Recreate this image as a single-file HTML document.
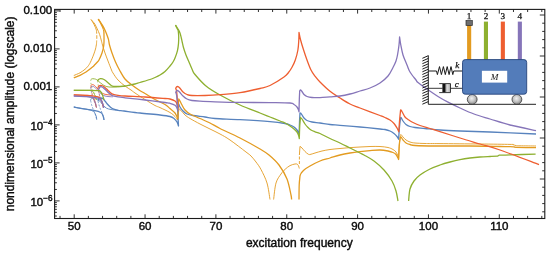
<!DOCTYPE html>
<html lang="en"><head><meta charset="utf-8"><title>Frequency response</title>
<style>html,body{margin:0;padding:0;background:#fff}body{width:550px;height:254px;overflow:hidden;position:relative}</style></head>
<body>
<svg width="550" height="254" viewBox="0 0 550 254" style="position:absolute;left:0;top:0">
<rect x="0" y="0" width="550" height="254" fill="#fff"/>
<clipPath id="cp"><rect x="54.6" y="9.4" width="490.2" height="209.1"/></clipPath>
<g clip-path="url(#cp)" fill="none" stroke-linecap="butt" stroke-linejoin="round">
<path d="M90.60,100.40C90.75,101.08 91.18,103.32 91.50,104.50C91.82,105.68 92.00,106.20 92.50,107.50C93.00,108.80 93.97,110.92 94.50,112.30C95.03,113.68 95.33,114.58 95.70,115.80C96.07,117.02 96.53,118.97 96.70,119.60" stroke="#5883be" stroke-width="0.70" stroke-dasharray="2.2,1.3"/>
<path d="M98.00,101.00C98.17,101.67 98.67,103.83 99.00,105.00C99.33,106.17 99.50,106.70 100.00,108.00C100.50,109.30 101.48,111.42 102.00,112.80C102.52,114.18 102.77,115.10 103.10,116.30C103.43,117.50 103.85,119.38 104.00,120.00" stroke="#5883be" stroke-width="0.70" stroke-dasharray="2.2,1.3"/>
<path d="M90.90,79.60C90.87,80.00 90.62,81.02 90.70,82.00C90.78,82.98 91.15,84.42 91.40,85.50C91.65,86.58 91.83,87.45 92.20,88.50C92.57,89.55 93.10,90.80 93.60,91.80C94.10,92.80 94.73,93.13 95.20,94.50C95.67,95.87 96.20,99.08 96.40,100.00" stroke="#8eb030" stroke-width="0.70" stroke-dasharray="1.4,2"/>
<path d="M97.50,81.20C97.58,81.67 97.75,82.87 98.00,84.00C98.25,85.13 98.58,86.75 99.00,88.00C99.42,89.25 99.95,90.42 100.50,91.50C101.05,92.58 101.72,93.08 102.30,94.50C102.88,95.92 103.72,99.08 104.00,100.00" stroke="#8eb030" stroke-width="0.70" stroke-dasharray="1.4,2"/>
<path d="M90.80,86.00C90.93,86.83 91.33,89.50 91.60,91.00C91.87,92.50 92.03,93.58 92.40,95.00C92.77,96.42 93.32,98.08 93.80,99.50C94.28,100.92 94.85,102.17 95.30,103.50C95.75,104.83 96.30,106.83 96.50,107.50" stroke="#ee5e30" stroke-width="0.70" stroke-dasharray="2.2,1.3"/>
<path d="M97.80,87.60C97.95,88.33 98.38,90.60 98.70,92.00C99.02,93.40 99.28,94.58 99.70,96.00C100.12,97.42 100.72,99.08 101.20,100.50C101.68,101.92 102.18,103.28 102.60,104.50C103.02,105.72 103.52,107.25 103.70,107.80" stroke="#ee5e30" stroke-width="0.70" stroke-dasharray="2.2,1.3"/>
<path d="M90.70,87.40C90.83,88.20 91.22,90.73 91.50,92.20C91.78,93.67 92.02,94.85 92.40,96.20C92.78,97.55 93.32,99.00 93.80,100.30C94.28,101.60 94.87,102.80 95.30,104.00C95.73,105.20 96.22,106.92 96.40,107.50" stroke="#8675b9" stroke-width="0.70" stroke-dasharray="2.2,1.3"/>
<path d="M98.50,89.80C98.62,90.42 98.95,92.30 99.20,93.50C99.45,94.70 99.63,95.72 100.00,97.00C100.37,98.28 100.95,99.87 101.40,101.20C101.85,102.53 102.33,103.87 102.70,105.00C103.07,106.13 103.45,107.50 103.60,108.00" stroke="#8675b9" stroke-width="0.70" stroke-dasharray="2.2,1.3"/>
<path d="M73.80,107.00C75.50,107.32 81.30,108.40 84.00,108.90C86.70,109.40 88.42,109.57 90.00,110.00C91.58,110.43 92.62,110.83 93.50,111.50C94.38,112.17 94.82,113.08 95.30,114.00C95.78,114.92 96.17,116.07 96.40,117.00C96.63,117.93 96.65,119.17 96.70,119.60" stroke="#5883be" stroke-width="0.90"/>
<path d="M90.60,100.40C90.70,100.10 90.85,99.03 91.20,98.60C91.55,98.17 91.98,97.85 92.70,97.80C93.42,97.75 94.53,97.97 95.50,98.30C96.47,98.63 97.58,99.10 98.50,99.80C99.42,100.50 100.17,101.55 101.00,102.50C101.83,103.45 102.58,104.55 103.50,105.50C104.42,106.45 105.25,107.53 106.50,108.20C107.75,108.87 109.08,109.13 111.00,109.50C112.92,109.87 116.83,110.25 118.00,110.40" stroke="#5883be" stroke-width="0.90"/>
<path d="M73.80,75.50C74.83,75.05 78.13,73.83 80.00,72.80C81.87,71.77 83.67,70.40 85.00,69.30C86.33,68.20 87.10,67.37 88.00,66.20C88.90,65.03 89.48,64.17 90.40,62.30C91.32,60.43 92.65,57.22 93.50,55.00C94.35,52.78 95.00,50.83 95.50,49.00C96.00,47.17 96.33,44.83 96.50,44.00" stroke="#e39b20" stroke-width="0.90"/>
<path d="M96.50,44.00C96.55,43.00 96.77,39.83 96.80,38.00C96.83,36.17 96.77,34.30 96.70,33.00C96.63,31.70 96.45,30.67 96.40,30.20" stroke="#e39b20" stroke-width="0.90" stroke-dasharray="3.5,1.6"/>
<path d="M91.10,19.50C91.42,19.88 92.38,21.05 93.00,21.80C93.62,22.55 94.10,22.83 94.80,24.00C95.50,25.17 96.40,27.07 97.20,28.80C98.00,30.53 98.93,32.53 99.60,34.40C100.27,36.27 100.72,38.23 101.20,40.00C101.68,41.77 101.87,42.83 102.50,45.00C103.13,47.17 104.08,50.33 105.00,53.00C105.92,55.67 106.92,58.17 108.00,61.00C109.08,63.83 110.67,68.00 111.50,70.00C112.33,72.00 111.92,71.33 113.00,73.00C114.08,74.67 116.00,77.83 118.00,80.00C120.00,82.17 122.83,84.33 125.00,86.00C127.17,87.67 129.33,88.83 131.00,90.00C132.67,91.17 132.67,91.42 135.00,93.00C137.33,94.58 141.67,97.42 145.00,99.50C148.33,101.58 152.50,104.15 155.00,105.50C157.50,106.85 157.50,106.43 160.00,107.60C162.50,108.77 167.50,111.02 170.00,112.50C172.50,113.98 173.75,115.25 175.00,116.50C176.25,117.75 177.08,119.42 177.50,120.00C177.67,118.67 178.22,113.87 178.50,112.00C178.78,110.13 179.08,109.33 179.20,108.80C179.50,109.08 180.03,109.47 181.00,110.50C181.97,111.53 183.50,113.67 185.00,115.00C186.50,116.33 187.50,117.00 190.00,118.50C192.50,120.00 196.67,122.25 200.00,124.00C203.33,125.75 206.67,127.33 210.00,129.00C213.33,130.67 216.67,132.17 220.00,134.00C223.33,135.83 225.67,137.00 230.00,140.00C234.33,143.00 242.50,149.33 246.00,152.00C249.50,154.67 249.33,154.33 251.00,156.00C252.67,157.67 254.33,159.75 256.00,162.00C257.67,164.25 259.17,166.00 261.00,169.50C262.83,173.00 265.50,178.00 267.00,183.00C268.50,188.00 269.50,196.75 270.00,199.50" stroke="#e39b20" stroke-width="0.90"/>
<path d="M273.60,199.50C274.00,196.75 274.77,187.25 276.00,183.00C277.23,178.75 279.50,176.27 281.00,174.00C282.50,171.73 283.50,170.80 285.00,169.40C286.50,168.00 288.33,166.50 290.00,165.60C291.67,164.70 293.80,164.23 295.00,164.00C296.20,163.77 296.62,163.90 297.20,164.20C297.78,164.50 298.15,165.08 298.50,165.80C298.85,166.52 299.17,168.05 299.30,168.50" stroke="#e39b20" stroke-width="0.90"/>
<path d="M299.40,164.00L299.40,155.00" stroke="#e39b20" stroke-width="0.90" stroke-dasharray="3,1.5"/>
<path d="M299.40,155.00L300.00,146.30C300.33,146.58 301.17,147.13 302.00,148.00C302.83,148.87 304.00,150.50 305.00,151.50C306.00,152.50 307.17,153.50 308.00,154.00C308.83,154.50 308.83,154.67 310.00,154.50C311.17,154.33 313.00,153.58 315.00,153.00C317.00,152.42 319.50,151.58 322.00,151.00C324.50,150.42 327.00,149.92 330.00,149.50C333.00,149.08 336.67,148.82 340.00,148.50C343.33,148.18 346.67,147.85 350.00,147.60C353.33,147.35 356.67,147.18 360.00,147.00C363.33,146.82 366.67,146.58 370.00,146.50C373.33,146.42 377.00,146.33 380.00,146.50C383.00,146.67 385.83,147.00 388.00,147.50C390.17,148.00 391.67,148.75 393.00,149.50C394.33,150.25 395.17,150.92 396.00,152.00C396.83,153.08 397.57,154.92 398.00,156.00C398.43,157.08 398.50,158.08 398.60,158.50C398.72,156.25 399.02,148.83 399.30,145.00C399.58,141.17 400.13,137.08 400.30,135.50C400.42,135.33 400.55,134.25 401.00,134.50C401.45,134.75 402.17,136.08 403.00,137.00C403.83,137.92 404.83,139.17 406.00,140.00C407.17,140.83 408.50,141.50 410.00,142.00C411.50,142.50 412.50,142.75 415.00,143.00C417.50,143.25 420.83,143.40 425.00,143.50C429.17,143.60 430.83,143.52 440.00,143.60C449.17,143.68 468.33,143.87 480.00,144.00C491.67,144.13 504.50,144.30 510.00,144.40C515.50,144.50 512.00,144.40 513.00,144.60C514.00,144.80 514.83,145.40 516.00,145.60C517.17,145.80 516.67,145.73 520.00,145.80C523.33,145.87 533.33,145.97 536.00,146.00" stroke="#e39b20" stroke-width="0.90"/>
<path d="M96.40,30.20C96.23,29.73 95.80,28.37 95.40,27.40C95.00,26.43 94.48,25.33 94.00,24.40C93.52,23.47 93.00,22.60 92.50,21.80C92.00,21.00 91.25,19.97 91.00,19.60" stroke="#e39b20" stroke-width="0.90"/>
<path d="M73.80,90.20C75.67,90.22 82.13,90.27 85.00,90.30C87.87,90.33 89.75,90.25 91.00,90.40C92.25,90.55 91.92,90.52 92.50,91.20C93.08,91.88 93.85,93.03 94.50,94.50C95.15,95.97 96.08,99.08 96.40,100.00" stroke="#8eb030" stroke-width="0.90"/>
<path d="M90.90,79.60C91.02,79.50 91.30,79.15 91.60,79.00C91.90,78.85 92.22,78.72 92.70,78.70C93.18,78.68 93.88,78.77 94.50,78.90C95.12,79.03 95.73,79.10 96.40,79.50C97.07,79.90 97.53,80.52 98.50,81.30C99.47,82.08 101.10,83.42 102.20,84.20C103.30,84.98 103.97,85.53 105.10,86.00C106.23,86.47 107.35,86.82 109.00,87.00C110.65,87.18 113.17,87.13 115.00,87.10C116.83,87.07 118.33,86.93 120.00,86.80C121.67,86.67 124.17,86.38 125.00,86.30" stroke="#8eb030" stroke-width="0.90"/>
<path d="M73.80,94.80C75.67,94.88 82.30,95.17 85.00,95.30C87.70,95.43 88.83,95.40 90.00,95.60C91.17,95.80 91.25,95.77 92.00,96.50C92.75,97.23 93.77,98.17 94.50,100.00C95.23,101.83 96.08,106.25 96.40,107.50" stroke="#ee5e30" stroke-width="0.90"/>
<path d="M90.80,86.00C90.90,85.82 91.13,85.15 91.40,84.90C91.67,84.65 91.97,84.47 92.40,84.50C92.83,84.53 93.47,84.77 94.00,85.10C94.53,85.43 94.85,85.75 95.60,86.50C96.35,87.25 97.60,88.63 98.50,89.60C99.40,90.57 100.08,91.57 101.00,92.30C101.92,93.03 102.83,93.58 104.00,94.00C105.17,94.42 106.67,94.63 108.00,94.80C109.33,94.97 111.33,94.97 112.00,95.00" stroke="#ee5e30" stroke-width="0.90"/>
<path d="M73.80,95.90C75.67,96.00 82.30,96.33 85.00,96.50C87.70,96.67 88.67,96.57 90.00,96.90C91.33,97.23 92.08,97.48 93.00,98.50C93.92,99.52 94.93,101.50 95.50,103.00C96.07,104.50 96.25,106.75 96.40,107.50" stroke="#8675b9" stroke-width="0.90"/>
<path d="M90.70,87.40C90.83,87.27 91.17,86.78 91.50,86.60C91.83,86.42 92.28,86.25 92.70,86.30C93.12,86.35 93.53,86.60 94.00,86.90C94.47,87.20 94.75,87.42 95.50,88.10C96.25,88.78 97.50,89.98 98.50,91.00C99.50,92.02 100.42,93.37 101.50,94.20C102.58,95.03 103.75,95.60 105.00,96.00C106.25,96.40 107.67,96.47 109.00,96.60C110.33,96.73 112.33,96.77 113.00,96.80" stroke="#8675b9" stroke-width="0.90"/>
<path d="M73.80,107.00C75.50,107.32 80.47,108.28 84.00,108.90C87.53,109.52 92.22,110.10 95.00,110.70C97.78,111.30 99.45,111.87 100.70,112.50C101.95,113.13 102.02,113.67 102.50,114.50C102.98,115.33 103.35,116.58 103.60,117.50C103.85,118.42 103.93,119.58 104.00,120.00" stroke="#5883be" stroke-width="1.30"/>
<path d="M98.00,101.00C98.17,100.65 98.55,99.40 99.00,98.90C99.45,98.40 100.03,98.02 100.70,98.00C101.37,97.98 102.28,98.30 103.00,98.80C103.72,99.30 104.17,100.00 105.00,101.00C105.83,102.00 107.08,103.77 108.00,104.80C108.92,105.83 109.67,106.53 110.50,107.20C111.33,107.87 111.72,108.28 113.00,108.80C114.28,109.32 116.37,109.93 118.20,110.30C120.03,110.67 120.37,110.55 124.00,111.00C127.63,111.45 134.00,112.33 140.00,113.00C146.00,113.67 155.00,114.42 160.00,115.00C165.00,115.58 167.67,115.92 170.00,116.50C172.33,117.08 172.83,117.58 174.00,118.50C175.17,119.42 176.25,120.75 177.00,122.00C177.75,123.25 178.25,125.33 178.50,126.00C178.35,123.33 177.82,113.67 177.60,110.00C177.38,106.33 177.27,105.00 177.20,104.00C177.33,103.80 177.70,102.72 178.00,102.80C178.30,102.88 178.67,103.80 179.00,104.50C179.33,105.20 179.33,105.92 180.00,107.00C180.67,108.08 181.83,109.83 183.00,111.00C184.17,112.17 185.33,113.25 187.00,114.00C188.67,114.75 190.00,115.00 193.00,115.50C196.00,116.00 201.33,116.50 205.00,117.00C208.67,117.50 209.17,118.07 215.00,118.50C220.83,118.93 230.83,119.08 240.00,119.60C249.17,120.12 262.50,120.95 270.00,121.60C277.50,122.25 281.67,122.93 285.00,123.50C288.33,124.07 288.50,124.42 290.00,125.00C291.50,125.58 292.83,126.17 294.00,127.00C295.17,127.83 296.23,129.00 297.00,130.00C297.77,131.00 298.25,132.13 298.60,133.00C298.95,133.87 299.02,134.83 299.10,135.20C299.17,133.00 299.35,125.70 299.50,122.00C299.65,118.30 299.92,114.50 300.00,113.00C300.13,113.05 300.47,112.97 300.80,113.30C301.13,113.63 301.47,114.22 302.00,115.00C302.53,115.78 303.17,117.08 304.00,118.00C304.83,118.92 305.67,119.83 307.00,120.50C308.33,121.17 309.83,121.58 312.00,122.00C314.17,122.42 317.00,122.58 320.00,123.00C323.00,123.42 326.67,124.12 330.00,124.50C333.33,124.88 335.00,124.88 340.00,125.30C345.00,125.72 353.33,126.38 360.00,127.00C366.67,127.62 375.83,128.58 380.00,129.00C384.17,129.42 383.33,129.17 385.00,129.50C386.67,129.83 388.50,130.33 390.00,131.00C391.50,131.67 392.83,132.58 394.00,133.50C395.17,134.42 396.23,135.55 397.00,136.50C397.77,137.45 398.33,138.75 398.60,139.20C398.75,137.17 399.17,130.60 399.50,127.00C399.83,123.40 400.42,119.17 400.60,117.60C400.72,117.63 400.90,117.23 401.30,117.80C401.70,118.37 402.22,119.88 403.00,121.00C403.78,122.12 404.83,123.58 406.00,124.50C407.17,125.42 408.50,126.00 410.00,126.50C411.50,127.00 412.50,127.17 415.00,127.50C417.50,127.83 420.83,128.08 425.00,128.50C429.17,128.92 434.17,129.58 440.00,130.00C445.83,130.42 451.67,130.67 460.00,131.00C468.33,131.33 477.33,131.50 490.00,132.00C502.67,132.50 528.33,133.67 536.00,134.00" stroke="#5883be" stroke-width="1.30"/>
<path d="M73.80,77.80C74.83,77.38 77.97,76.27 80.00,75.30C82.03,74.33 83.92,73.38 86.00,72.00C88.08,70.62 91.00,68.25 92.50,67.00C94.00,65.75 94.18,65.33 95.00,64.50C95.82,63.67 96.73,62.75 97.40,62.00C98.07,61.25 98.23,61.50 99.00,60.00C99.77,58.50 101.25,55.17 102.00,53.00C102.75,50.83 103.17,48.83 103.50,47.00C103.83,45.17 103.92,44.00 104.00,42.00C104.08,40.00 104.03,36.83 104.00,35.00C103.97,33.17 103.90,31.95 103.80,31.00C103.70,30.05 103.47,29.58 103.40,29.30" stroke="#e39b20" stroke-width="1.30"/>
<path d="M98.30,19.00C98.58,19.42 99.45,20.67 100.00,21.50C100.55,22.33 100.93,22.92 101.60,24.00C102.27,25.08 103.20,26.40 104.00,28.00C104.80,29.60 105.67,31.73 106.40,33.60C107.13,35.47 107.88,37.30 108.40,39.20C108.92,41.10 108.90,42.70 109.50,45.00C110.10,47.30 111.00,50.17 112.00,53.00C113.00,55.83 114.25,59.17 115.50,62.00C116.75,64.83 117.92,67.17 119.50,70.00C121.08,72.83 122.92,76.50 125.00,79.00C127.08,81.50 129.67,83.17 132.00,85.00C134.33,86.83 136.83,88.58 139.00,90.00C141.17,91.42 142.33,91.92 145.00,93.50C147.67,95.08 151.67,97.67 155.00,99.50C158.33,101.33 162.50,103.00 165.00,104.50C167.50,106.00 168.33,107.08 170.00,108.50C171.67,109.92 173.67,111.25 175.00,113.00C176.33,114.75 177.50,118.00 178.00,119.00C178.05,116.67 178.17,108.33 178.30,105.00C178.43,101.67 178.72,100.00 178.80,99.00C179.00,99.33 179.47,100.00 180.00,101.00C180.53,102.00 181.17,103.50 182.00,105.00C182.83,106.50 183.67,108.50 185.00,110.00C186.33,111.50 187.50,112.58 190.00,114.00C192.50,115.42 196.67,117.00 200.00,118.50C203.33,120.00 206.67,121.33 210.00,123.00C213.33,124.67 215.00,126.00 220.00,128.50C225.00,131.00 233.33,134.58 240.00,138.00C246.67,141.42 255.17,146.17 260.00,149.00C264.83,151.83 265.83,152.33 269.00,155.00C272.17,157.67 276.00,161.00 279.00,165.00C282.00,169.00 285.00,174.00 287.00,179.00C289.00,184.00 290.23,191.58 291.00,195.00C291.77,198.42 291.50,198.75 291.60,199.50" stroke="#e39b20" stroke-width="1.30"/>
<path d="M299.00,199.50C299.03,197.08 299.03,188.92 299.20,185.00C299.37,181.08 299.87,177.50 300.00,176.00C300.17,175.58 300.33,174.50 301.00,173.50C301.67,172.50 302.50,171.25 304.00,170.00C305.50,168.75 307.33,167.50 310.00,166.00C312.67,164.50 316.67,162.33 320.00,161.00C323.33,159.67 326.67,159.00 330.00,158.00C333.33,157.00 336.67,155.83 340.00,155.00C343.33,154.17 346.67,153.57 350.00,153.00C353.33,152.43 356.67,152.00 360.00,151.60C363.33,151.20 366.67,150.87 370.00,150.60C373.33,150.33 377.00,149.93 380.00,150.00C383.00,150.07 385.83,150.58 388.00,151.00C390.17,151.42 391.67,151.92 393.00,152.50C394.33,153.08 395.17,153.58 396.00,154.50C396.83,155.42 397.57,157.17 398.00,158.00C398.43,158.83 398.50,159.25 398.60,159.50C398.72,157.08 399.03,148.58 399.30,145.00C399.57,141.42 400.05,139.17 400.20,138.00C400.33,137.83 400.53,136.67 401.00,137.00C401.47,137.33 402.17,139.00 403.00,140.00C403.83,141.00 404.83,142.25 406.00,143.00C407.17,143.75 408.50,144.08 410.00,144.50C411.50,144.92 410.83,145.25 415.00,145.50C419.17,145.75 425.83,145.92 435.00,146.00C444.17,146.08 459.17,145.92 470.00,146.00C480.83,146.08 492.67,146.37 500.00,146.50C507.33,146.63 511.33,146.65 514.00,146.80C516.67,146.95 512.33,147.27 516.00,147.40C519.67,147.53 532.67,147.57 536.00,147.60" stroke="#e39b20" stroke-width="1.30"/>
<path d="M103.40,29.30C103.23,28.88 102.80,27.70 102.40,26.80C102.00,25.90 101.47,24.80 101.00,23.90C100.53,23.00 100.07,22.20 99.60,21.40C99.13,20.60 98.43,19.48 98.20,19.10" stroke="#e39b20" stroke-width="1.30"/>
<path d="M73.80,90.30C75.67,90.32 80.88,90.35 85.00,90.40C89.12,90.45 95.92,90.42 98.50,90.60C101.08,90.78 99.87,90.85 100.50,91.50C101.13,92.15 101.72,93.08 102.30,94.50C102.88,95.92 103.72,99.08 104.00,100.00" stroke="#8eb030" stroke-width="1.30"/>
<path d="M97.50,81.20C97.67,80.93 98.02,80.02 98.50,79.60C98.98,79.18 99.73,78.82 100.40,78.70C101.07,78.58 101.83,78.72 102.50,78.90C103.17,79.08 103.48,79.17 104.40,79.80C105.32,80.43 106.92,81.78 108.00,82.70C109.08,83.62 110.15,84.73 110.90,85.30C111.65,85.87 111.90,85.92 112.50,86.10C113.10,86.28 113.25,86.35 114.50,86.40C115.75,86.45 118.25,86.47 120.00,86.40C121.75,86.33 123.33,86.23 125.00,86.00C126.67,85.77 128.33,85.33 130.00,85.00C131.67,84.67 133.33,84.42 135.00,84.00C136.67,83.58 137.50,83.25 140.00,82.50C142.50,81.75 147.50,80.33 150.00,79.50C152.50,78.67 153.33,78.25 155.00,77.50C156.67,76.75 158.33,76.00 160.00,75.00C161.67,74.00 163.33,73.00 165.00,71.50C166.67,70.00 168.67,67.58 170.00,66.00C171.33,64.42 172.17,63.33 173.00,62.00C173.83,60.67 174.27,59.87 175.00,58.00C175.73,56.13 176.82,53.20 177.40,50.80C177.98,48.40 178.28,46.07 178.50,43.60C178.72,41.13 178.75,38.18 178.70,36.00C178.65,33.82 178.28,31.42 178.20,30.50" stroke="#8eb030" stroke-width="1.30"/>
<path d="M175.50,25.00C175.92,25.67 177.25,27.67 178.00,29.00C178.75,30.33 179.45,31.50 180.00,33.00C180.55,34.50 180.93,36.50 181.30,38.00C181.67,39.50 181.85,40.47 182.20,42.00C182.55,43.53 182.80,45.13 183.40,47.20C184.00,49.27 184.90,52.00 185.80,54.40C186.70,56.80 187.70,59.00 188.80,61.60C189.90,64.20 191.37,67.85 192.40,70.00C193.43,72.15 192.73,71.83 195.00,74.50C197.27,77.17 201.83,82.58 206.00,86.00C210.17,89.42 214.33,91.83 220.00,95.00C225.67,98.17 233.33,102.00 240.00,105.00C246.67,108.00 255.00,111.00 260.00,113.00C265.00,115.00 266.67,115.67 270.00,117.00C273.33,118.33 277.50,120.00 280.00,121.00C282.50,122.00 283.33,122.17 285.00,123.00C286.67,123.83 288.50,125.00 290.00,126.00C291.50,127.00 292.83,128.00 294.00,129.00C295.17,130.00 296.23,130.92 297.00,132.00C297.77,133.08 298.22,134.42 298.60,135.50C298.98,136.58 299.18,138.00 299.30,138.50C299.38,136.25 299.60,128.50 299.80,125.00C300.00,121.50 300.38,118.75 300.50,117.50C300.75,117.75 301.25,117.92 302.00,119.00C302.75,120.08 304.00,122.58 305.00,124.00C306.00,125.42 307.00,126.50 308.00,127.50C309.00,128.50 309.83,129.28 311.00,130.00C312.17,130.72 313.50,131.22 315.00,131.80C316.50,132.38 317.50,132.38 320.00,133.50C322.50,134.62 326.67,136.92 330.00,138.50C333.33,140.08 336.67,141.42 340.00,143.00C343.33,144.58 346.67,146.33 350.00,148.00C353.33,149.67 357.67,151.83 360.00,153.00C362.33,154.17 361.67,153.67 364.00,155.00C366.33,156.33 370.67,158.50 374.00,161.00C377.33,163.50 381.00,166.67 384.00,170.00C387.00,173.33 390.00,177.50 392.00,181.00C394.00,184.50 395.00,187.67 396.00,191.00C397.00,194.33 397.67,199.33 398.00,201.00" stroke="#8eb030" stroke-width="1.30"/>
<path d="M408.60,201.00C408.83,199.00 409.10,192.33 410.00,189.00C410.90,185.67 412.33,183.33 414.00,181.00C415.67,178.67 417.33,177.00 420.00,175.00C422.67,173.00 426.67,170.67 430.00,169.00C433.33,167.33 436.67,166.17 440.00,165.00C443.33,163.83 446.67,162.90 450.00,162.00C453.33,161.10 456.67,160.27 460.00,159.60C463.33,158.93 466.67,158.43 470.00,158.00C473.33,157.57 476.67,157.25 480.00,157.00C483.33,156.75 487.08,156.63 490.00,156.50C492.92,156.37 496.25,156.25 497.50,156.20L499.00,155.20C500.83,155.13 503.90,154.97 510.00,154.80C516.10,154.63 531.33,154.30 535.60,154.20" stroke="#8eb030" stroke-width="1.30"/>
<path d="M178.20,30.50C178.00,30.13 177.47,29.20 177.00,28.30C176.53,27.40 175.67,25.63 175.40,25.10" stroke="#8eb030" stroke-width="1.30"/>
<path d="M73.80,94.90C75.67,94.98 82.30,95.27 85.00,95.40C87.70,95.53 87.83,95.43 90.00,95.70C92.17,95.97 96.33,96.53 98.00,97.00C99.67,97.47 99.33,97.70 100.00,98.50C100.67,99.30 101.40,100.25 102.00,101.80C102.60,103.35 103.33,106.80 103.60,107.80" stroke="#ee5e30" stroke-width="1.30"/>
<path d="M97.80,87.60C98.00,87.33 98.57,86.38 99.00,86.00C99.43,85.62 99.73,85.30 100.40,85.30C101.07,85.30 102.10,85.52 103.00,86.00C103.90,86.48 104.97,87.47 105.80,88.20C106.63,88.93 107.03,89.50 108.00,90.40C108.97,91.30 110.60,92.90 111.60,93.60C112.60,94.30 113.15,94.35 114.00,94.60C114.85,94.85 114.87,94.87 116.70,95.10C118.53,95.33 120.28,95.68 125.00,96.00C129.72,96.32 138.33,96.58 145.00,97.00C151.67,97.42 160.83,98.17 165.00,98.50C169.17,98.83 168.33,98.58 170.00,99.00C171.67,99.42 173.83,100.17 175.00,101.00C176.17,101.83 176.50,102.92 177.00,104.00C177.50,105.08 177.83,106.92 178.00,107.50C177.78,104.92 177.08,95.18 176.70,92.00C176.32,88.82 175.87,89.00 175.70,88.40C175.83,88.17 176.20,87.32 176.50,87.00C176.80,86.68 177.13,86.50 177.50,86.50C177.87,86.50 178.28,86.70 178.70,87.00C179.12,87.30 179.28,87.47 180.00,88.30C180.72,89.13 181.83,90.97 183.00,92.00C184.17,93.03 185.50,93.92 187.00,94.50C188.50,95.08 189.00,95.33 192.00,95.50C195.00,95.67 200.33,95.63 205.00,95.50C209.67,95.37 214.17,95.18 220.00,94.70C225.83,94.22 233.33,93.63 240.00,92.60C246.67,91.57 255.00,89.68 260.00,88.50C265.00,87.32 266.00,87.42 270.00,85.50C274.00,83.58 280.92,79.17 284.00,77.00C287.08,74.83 287.17,74.12 288.50,72.50C289.83,70.88 290.87,69.38 292.00,67.30C293.13,65.22 294.32,62.88 295.30,60.00C296.28,57.12 297.32,53.33 297.90,50.00C298.48,46.67 298.62,42.93 298.80,40.00C298.98,37.07 298.97,33.67 299.00,32.40C299.27,33.67 299.83,37.07 300.60,40.00C301.37,42.93 302.53,46.67 303.60,50.00C304.67,53.33 305.77,56.67 307.00,60.00C308.23,63.33 309.67,67.30 311.00,70.00C312.33,72.70 313.50,74.20 315.00,76.20C316.50,78.20 317.50,79.48 320.00,82.00C322.50,84.52 326.67,88.63 330.00,91.30C333.33,93.97 336.67,95.88 340.00,98.00C343.33,100.12 346.67,102.33 350.00,104.00C353.33,105.67 355.00,106.08 360.00,108.00C365.00,109.92 375.83,113.92 380.00,115.50C384.17,117.08 383.33,116.75 385.00,117.50C386.67,118.25 388.50,119.00 390.00,120.00C391.50,121.00 392.83,122.17 394.00,123.50C395.17,124.83 396.20,126.62 397.00,128.00C397.80,129.38 398.50,131.17 398.80,131.80C398.93,129.83 399.30,123.63 399.60,120.00C399.90,116.37 400.43,111.67 400.60,110.00C400.70,110.03 400.88,109.78 401.20,110.20C401.52,110.62 401.87,111.37 402.50,112.50C403.13,113.63 404.08,115.83 405.00,117.00C405.92,118.17 406.83,118.67 408.00,119.50C409.17,120.33 410.00,121.00 412.00,122.00C414.00,123.00 417.00,124.42 420.00,125.50C423.00,126.58 426.67,127.48 430.00,128.50C433.33,129.52 435.00,130.02 440.00,131.60C445.00,133.18 453.33,135.93 460.00,138.00C466.67,140.07 473.33,142.00 480.00,144.00C486.67,146.00 490.17,146.57 500.00,150.00C509.83,153.43 532.50,162.17 539.00,164.60" stroke="#ee5e30" stroke-width="1.30"/>
<path d="M73.80,96.00C75.67,96.10 82.30,96.43 85.00,96.60C87.70,96.77 87.83,96.73 90.00,97.00C92.17,97.27 96.17,97.70 98.00,98.20C99.83,98.70 100.20,99.03 101.00,100.00C101.80,100.97 102.37,102.67 102.80,104.00C103.23,105.33 103.47,107.33 103.60,108.00" stroke="#8675b9" stroke-width="1.30"/>
<path d="M98.50,89.80C98.68,89.38 99.18,87.82 99.60,87.30C100.02,86.78 100.50,86.70 101.00,86.70C101.50,86.70 102.10,87.00 102.60,87.30C103.10,87.60 103.43,88.00 104.00,88.50C104.57,89.00 105.25,89.58 106.00,90.30C106.75,91.02 107.67,92.05 108.50,92.80C109.33,93.55 110.25,94.30 111.00,94.80C111.75,95.30 111.83,95.45 113.00,95.80C114.17,96.15 116.00,96.57 118.00,96.90C120.00,97.23 120.50,97.28 125.00,97.80C129.50,98.32 138.33,99.22 145.00,100.00C151.67,100.78 160.83,101.95 165.00,102.50C169.17,103.05 168.33,102.85 170.00,103.30C171.67,103.75 173.83,104.42 175.00,105.20C176.17,105.98 176.50,107.03 177.00,108.00C177.50,108.97 177.83,110.50 178.00,111.00C177.78,108.50 177.08,99.12 176.70,96.00C176.32,92.88 175.87,92.92 175.70,92.30C175.83,92.08 176.20,91.30 176.50,91.00C176.80,90.70 177.13,90.47 177.50,90.50C177.87,90.53 178.28,90.87 178.70,91.20C179.12,91.53 179.28,91.70 180.00,92.50C180.72,93.30 181.83,94.92 183.00,96.00C184.17,97.08 185.50,98.25 187.00,99.00C188.50,99.75 189.83,100.13 192.00,100.50C194.17,100.87 196.17,100.98 200.00,101.20C203.83,101.42 208.33,101.60 215.00,101.80C221.67,102.00 230.83,102.27 240.00,102.40C249.17,102.53 261.67,102.50 270.00,102.60C278.33,102.70 286.00,102.68 290.00,103.00C294.00,103.32 292.83,103.83 294.00,104.50C295.17,105.17 296.25,106.08 297.00,107.00C297.75,107.92 298.17,109.20 298.50,110.00C298.83,110.80 298.92,111.50 299.00,111.80C299.05,109.83 299.18,103.47 299.30,100.00C299.42,96.53 299.63,92.50 299.70,91.00C299.83,90.83 300.12,89.92 300.50,90.00C300.88,90.08 301.42,90.75 302.00,91.50C302.58,92.25 303.17,93.67 304.00,94.50C304.83,95.33 305.67,96.00 307.00,96.50C308.33,97.00 309.83,97.32 312.00,97.50C314.17,97.68 317.00,97.72 320.00,97.60C323.00,97.48 326.67,97.07 330.00,96.80C333.33,96.53 336.67,96.47 340.00,96.00C343.33,95.53 346.67,94.83 350.00,94.00C353.33,93.17 356.67,92.00 360.00,91.00C363.33,90.00 366.67,89.33 370.00,88.00C373.33,86.67 377.00,85.00 380.00,83.00C383.00,81.00 385.83,78.58 388.00,76.00C390.17,73.42 391.67,70.00 393.00,67.50C394.33,65.00 395.25,63.08 396.00,61.00C396.75,58.92 397.00,57.67 397.50,55.00C398.00,52.33 398.65,48.00 399.00,45.00C399.35,42.00 399.50,38.33 399.60,37.00C399.80,38.33 400.23,42.00 400.80,45.00C401.37,48.00 401.97,51.67 403.00,55.00C404.03,58.33 405.83,62.17 407.00,65.00C408.17,67.83 408.50,69.50 410.00,72.00C411.50,74.50 414.67,78.25 416.00,80.00C417.33,81.75 416.00,80.87 418.00,82.50C420.00,84.13 424.67,87.47 428.00,89.80C431.33,92.13 434.67,94.43 438.00,96.50C441.33,98.57 444.33,100.28 448.00,102.20C451.67,104.12 455.67,106.03 460.00,108.00C464.33,109.97 469.00,112.17 474.00,114.00C479.00,115.83 484.00,117.17 490.00,119.00C496.00,120.83 502.33,123.07 510.00,125.00C517.67,126.93 531.67,129.67 536.00,130.60" stroke="#8675b9" stroke-width="1.30"/>
</g>
<g><defs><radialGradient id="wg" cx="0.45" cy="0.4" r="0.6"><stop offset="0" stop-color="#f0f0f0"/><stop offset="0.55" stop-color="#c4c4c4"/><stop offset="1" stop-color="#8a8a8a"/></radialGradient><linearGradient id="dg" x1="0" x2="1" y1="0" y2="0"><stop offset="0" stop-color="#9a9a9a"/><stop offset="0.5" stop-color="#dcdcdc"/><stop offset="1" stop-color="#a8a8a8"/></linearGradient></defs><path d="M428.3,55.5V104.3H536" fill="none" stroke="#222" stroke-width="1"/><path d="M422.4,58.30L428.3,55.70M422.4,61.00L428.3,58.40M422.4,63.70L428.3,61.10M422.4,66.40L428.3,63.80M422.4,69.10L428.3,66.50M422.4,71.80L428.3,69.20M422.4,74.50L428.3,71.90M422.4,77.20L428.3,74.60M422.4,79.90L428.3,77.30M422.4,82.60L428.3,80.00M422.4,85.30L428.3,82.70M422.4,88.00L428.3,85.40M422.4,90.70L428.3,88.10M422.4,93.40L428.3,90.80M422.4,96.10L428.3,93.50M422.4,98.80L428.3,96.20M422.4,101.50L428.3,98.90M422.4,104.20L428.3,101.60" stroke="#111" stroke-width="0.95" fill="none"/><path d="M428.3,71H436.5L437.4,74.6L439.5,66.6L441.4,74.6L443.4,66.6L445.3,74.6L447.2,66.6L449.1,74.6L451.0,66.6L452.8,74.6L453.7,71H462.5" fill="none" stroke="#1a1a1a" stroke-width="1" stroke-linejoin="miter"/><rect x="445" y="84" width="5.3" height="8.2" fill="url(#dg)"/><path d="M428.3,88.3H442.6M450.5,88.3H462.5M439.2,83.6H450.5V92.6H439.2" fill="none" stroke="#222" stroke-width="0.9"/><rect x="442.4" y="84" width="3" height="8.2" fill="#111"/><rect x="467.1" y="25.0" width="4.1" height="35.5" fill="#e39b20"/><rect x="483.9" y="21.6" width="4.1" height="38.9" fill="#8eb030"/><rect x="500.8" y="21.6" width="4.1" height="38.9" fill="#ee5e30"/><rect x="517.8" y="21.6" width="4.1" height="38.9" fill="#8675b9"/><rect x="466" y="20.6" width="6.3" height="4.9" fill="#6e6e6e" stroke="#2a2a2a" stroke-width="0.7"/><circle cx="472.2" cy="99.4" r="4.9" fill="url(#wg)" stroke="#3a3a3a" stroke-width="0.8"/><circle cx="516.9" cy="99.4" r="4.9" fill="url(#wg)" stroke="#3a3a3a" stroke-width="0.8"/><rect x="462.5" y="59.6" width="64.2" height="34.6" rx="2.8" ry="2.8" fill="#537cba" stroke="#27457c" stroke-width="0.9"/><rect x="481.9" y="70.8" width="25.3" height="11.8" fill="#fff"/><g font-family="'Liberation Serif', serif" fill="#111" stroke="#111" stroke-width="0.25"><text x="494.6" y="79.6" font-size="9.2" font-style="italic" text-anchor="middle" stroke="none">M</text><text x="457.3" y="68.4" font-size="9" font-style="italic" text-anchor="middle">k</text><text x="456.8" y="86.6" font-size="9" font-style="italic" text-anchor="middle">c</text><text x="469.1" y="19.3" font-size="9.2" text-anchor="middle">1</text><text x="486.0" y="19.3" font-size="9.2" text-anchor="middle">2</text><text x="502.8" y="19.3" font-size="9.2" text-anchor="middle">3</text><text x="519.8" y="19.3" font-size="9.2" text-anchor="middle">4</text></g></g>
<path d="M60.03,218.50v-2.60M60.03,9.40v2.60M74.20,218.50v-4.20M74.20,9.40v4.20M88.37,218.50v-2.60M88.37,9.40v2.60M102.54,218.50v-2.60M102.54,9.40v2.60M116.71,218.50v-2.60M116.71,9.40v2.60M130.88,218.50v-2.60M130.88,9.40v2.60M145.05,218.50v-4.20M145.05,9.40v4.20M159.22,218.50v-2.60M159.22,9.40v2.60M173.39,218.50v-2.60M173.39,9.40v2.60M187.56,218.50v-2.60M187.56,9.40v2.60M201.73,218.50v-2.60M201.73,9.40v2.60M215.90,218.50v-4.20M215.90,9.40v4.20M230.07,218.50v-2.60M230.07,9.40v2.60M244.24,218.50v-2.60M244.24,9.40v2.60M258.41,218.50v-2.60M258.41,9.40v2.60M272.58,218.50v-2.60M272.58,9.40v2.60M286.75,218.50v-4.20M286.75,9.40v4.20M300.92,218.50v-2.60M300.92,9.40v2.60M315.09,218.50v-2.60M315.09,9.40v2.60M329.26,218.50v-2.60M329.26,9.40v2.60M343.43,218.50v-2.60M343.43,9.40v2.60M357.60,218.50v-4.20M357.60,9.40v4.20M371.77,218.50v-2.60M371.77,9.40v2.60M385.94,218.50v-2.60M385.94,9.40v2.60M400.11,218.50v-2.60M400.11,9.40v2.60M414.28,218.50v-2.60M414.28,9.40v2.60M428.45,218.50v-4.20M428.45,9.40v4.20M442.62,218.50v-2.60M442.62,9.40v2.60M456.79,218.50v-2.60M456.79,9.40v2.60M470.96,218.50v-2.60M470.96,9.40v2.60M485.13,218.50v-2.60M485.13,9.40v2.60M499.30,218.50v-4.20M499.30,9.40v4.20M513.47,218.50v-2.60M513.47,9.40v2.60M527.64,218.50v-2.60M527.64,9.40v2.60M541.81,218.50v-2.60M541.81,9.40v2.60M54.60,216.02h2.30M54.60,212.34h2.30M54.60,209.33h2.30M54.60,206.79h2.30M54.60,204.58h2.30M54.60,202.64h2.30M54.60,200.90h5.00M54.60,189.46h2.30M54.60,182.77h2.30M54.60,178.02h2.30M54.60,174.34h2.30M54.60,171.33h2.30M54.60,168.79h2.30M54.60,166.58h2.30M54.60,164.64h2.30M54.60,162.90h5.00M54.60,151.46h2.30M54.60,144.77h2.30M54.60,140.02h2.30M54.60,136.34h2.30M54.60,133.33h2.30M54.60,130.79h2.30M54.60,128.58h2.30M54.60,126.64h2.30M54.60,124.90h5.00M54.60,113.46h2.30M54.60,106.77h2.30M54.60,102.02h2.30M54.60,98.34h2.30M54.60,95.33h2.30M54.60,92.79h2.30M54.60,90.58h2.30M54.60,88.64h2.30M54.60,86.90h5.00M54.60,75.46h2.30M54.60,68.77h2.30M54.60,64.02h2.30M54.60,60.34h2.30M54.60,57.33h2.30M54.60,54.79h2.30M54.60,52.58h2.30M54.60,50.64h2.30M54.60,48.90h5.00M54.60,37.46h2.30M54.60,30.77h2.30M54.60,26.02h2.30M54.60,22.34h2.30M54.60,19.33h2.30M54.60,16.79h2.30M54.60,14.58h2.30M54.60,12.64h2.30M54.60,10.90h5.00M544.80,15.00h-5.00M544.80,23.20h-2.60M544.80,31.40h-2.60M544.80,39.60h-2.60M544.80,47.80h-2.60M544.80,56.00h-5.00M544.80,64.20h-2.60M544.80,72.40h-2.60M544.80,80.60h-2.60M544.80,88.80h-2.60M544.80,97.00h-5.00M544.80,105.20h-2.60M544.80,113.40h-2.60M544.80,121.60h-2.60M544.80,129.80h-2.60M544.80,138.00h-5.00M544.80,146.20h-2.60M544.80,154.40h-2.60M544.80,162.60h-2.60M544.80,170.80h-2.60M544.80,179.00h-5.00M544.80,187.20h-2.60M544.80,195.40h-2.60M544.80,203.60h-2.60M544.80,211.80h-2.60" stroke="#1a1a1a" stroke-width="0.9" fill="none"/>
<rect x="54.60" y="9.40" width="490.20" height="209.10" fill="none" stroke="#1a1a1a" stroke-width="1.1"/>
<g font-family="'Liberation Sans', sans-serif" fill="#0a0a0a" stroke="#0a0a0a" stroke-width="0.4" font-size="11.5">
<text x="74.20" y="230.3" text-anchor="middle">50</text>
<text x="145.05" y="230.3" text-anchor="middle">60</text>
<text x="215.90" y="230.3" text-anchor="middle">70</text>
<text x="286.75" y="230.3" text-anchor="middle">80</text>
<text x="357.60" y="230.3" text-anchor="middle">90</text>
<text x="428.45" y="230.3" text-anchor="middle">100</text>
<text x="499.30" y="230.3" text-anchor="middle">110</text>
<text x="52.2" y="14.40" text-anchor="end">0.100</text>
<text x="52.2" y="52.40" text-anchor="end">0.010</text>
<text x="52.2" y="90.40" text-anchor="end">0.001</text>
<text x="52.6" y="129.70" text-anchor="end">10<tspan font-size="8.2" dy="-4.9">−4</tspan></text>
<text x="52.6" y="167.70" text-anchor="end">10<tspan font-size="8.2" dy="-4.9">−5</tspan></text>
<text x="52.6" y="205.70" text-anchor="end">10<tspan font-size="8.2" dy="-4.9">−6</tspan></text>
</g>
<g font-family="'Liberation Sans', sans-serif" fill="#0a0a0a" stroke="#0a0a0a" stroke-width="0.4" font-size="12">
<text x="299.3" y="247" text-anchor="middle">excitation frequency</text>
<text transform="translate(14.2,113.9) rotate(-90)" text-anchor="middle">nondimensional amplitude (logscale)</text>
</g>
</svg>
</body></html>
